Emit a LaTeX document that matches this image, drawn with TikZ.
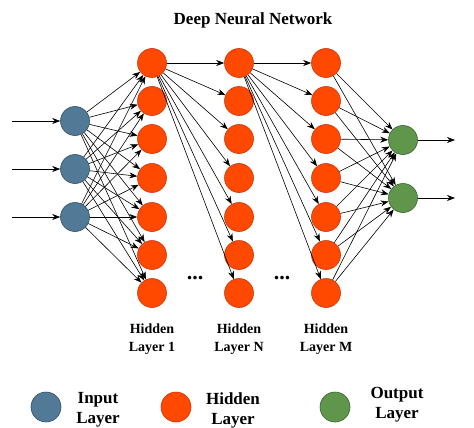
\documentclass[tikz,border=0pt]{standalone}
\usepackage{fontspec}
\setmainfont{Liberation Serif}
\usetikzlibrary{arrows.meta}
\definecolor{inpfill}{RGB}{82,122,150}
\definecolor{inpdraw}{RGB}{50,80,100}
\definecolor{hidfill}{RGB}{255,72,0}
\definecolor{hiddraw}{RGB}{205,55,10}
\definecolor{outfill}{RGB}{96,150,76}
\definecolor{outdraw}{RGB}{55,100,45}
\tikzset{
  neuron/.style={circle,minimum size=29pt,inner sep=0pt,line width=0.6pt},
  inp/.style={neuron,fill=inpfill,draw=inpdraw},
  hid/.style={neuron,fill=hidfill,draw=hiddraw},
  outn/.style={neuron,fill=outfill,draw=outdraw},
  legn/.style={circle,minimum size=30pt,inner sep=0pt,line width=0.6pt},
  conn/.style={line width=0.6pt,-{Stealth[length=8pt,width=6pt]}},
  lbl/.style={font=\bfseries\fontsize{14}{18}\selectfont,align=center},
  leg/.style={font=\bfseries\fontsize{17}{20}\selectfont,align=center},
}
\begin{document}
\begin{tikzpicture}[x=1pt,y=-1pt]
\useasboundingbox (0,0) rectangle (474,428);
\node[font=\bfseries\fontsize{17}{20}\selectfont] (title) at (253,20) {Deep Neural Network};
% input layer
\foreach \i/\y in {1/121,2/169,3/217}{
  \node[inp] (in\i) at (75,\y) {};
  \coordinate (src\i) at (12,\y);
}
% hidden layers
\foreach \j/\y in {1/63,2/101,3/139,4/178,5/217,6/255,7/293}{
  \node[hid] (ha\j) at (152,\y) {};
  \node[hid] (hb\j) at (239,\y) {};
  \node[hid] (hc\j) at (326,\y) {};
}
% output layer
\foreach \k/\y in {1/140,2/198}{
  \node[outn] (out\k) at (403,\y) {};
  \coordinate (dst\k) at (455,\y);
}
% connections
\foreach \i in {1,2,3}{
  \draw[conn] (src\i) -- (in\i);
  \foreach \j in {1,...,7}{ \draw[conn] (in\i) -- (ha\j); }
}
\foreach \j in {1,...,7}{
  \draw[conn] (ha1) -- (hb\j);
  \draw[conn] (hb1) -- (hc\j);
  \foreach \k in {1,2}{ \draw[conn] (hc\j) -- (out\k); }
}
\foreach \k in {1,2}{ \draw[conn] (out\k) -- (dst\k); }
% dots
\node[font=\bfseries\fontsize{22}{22}\selectfont] (dots1) at (195,278) {...};
\node[font=\bfseries\fontsize{22}{22}\selectfont] (dots2) at (282,278) {...};
% layer labels
\node[lbl] (l1) at (152,339) {Hidden\\Layer 1};
\node[lbl] (l2) at (239,339) {Hidden\\Layer N};
\node[lbl] (l3) at (326,339) {Hidden\\Layer M};
% legend
\node[legn,fill=inpfill,draw=inpdraw] (lg1) at (46,407) {};
\node[leg] (lt1) at (98,410) {Input\\Layer};
\node[legn,fill=hidfill,draw=hiddraw] (lg2) at (176,407) {};
\node[leg] (lt2) at (233,410) {Hidden\\Layer};
\node[legn,fill=outfill,draw=outdraw] (lg3) at (335,407) {};
\node[leg] (lt3) at (397,405) {Output\\Layer};
\end{tikzpicture}
\end{document}
